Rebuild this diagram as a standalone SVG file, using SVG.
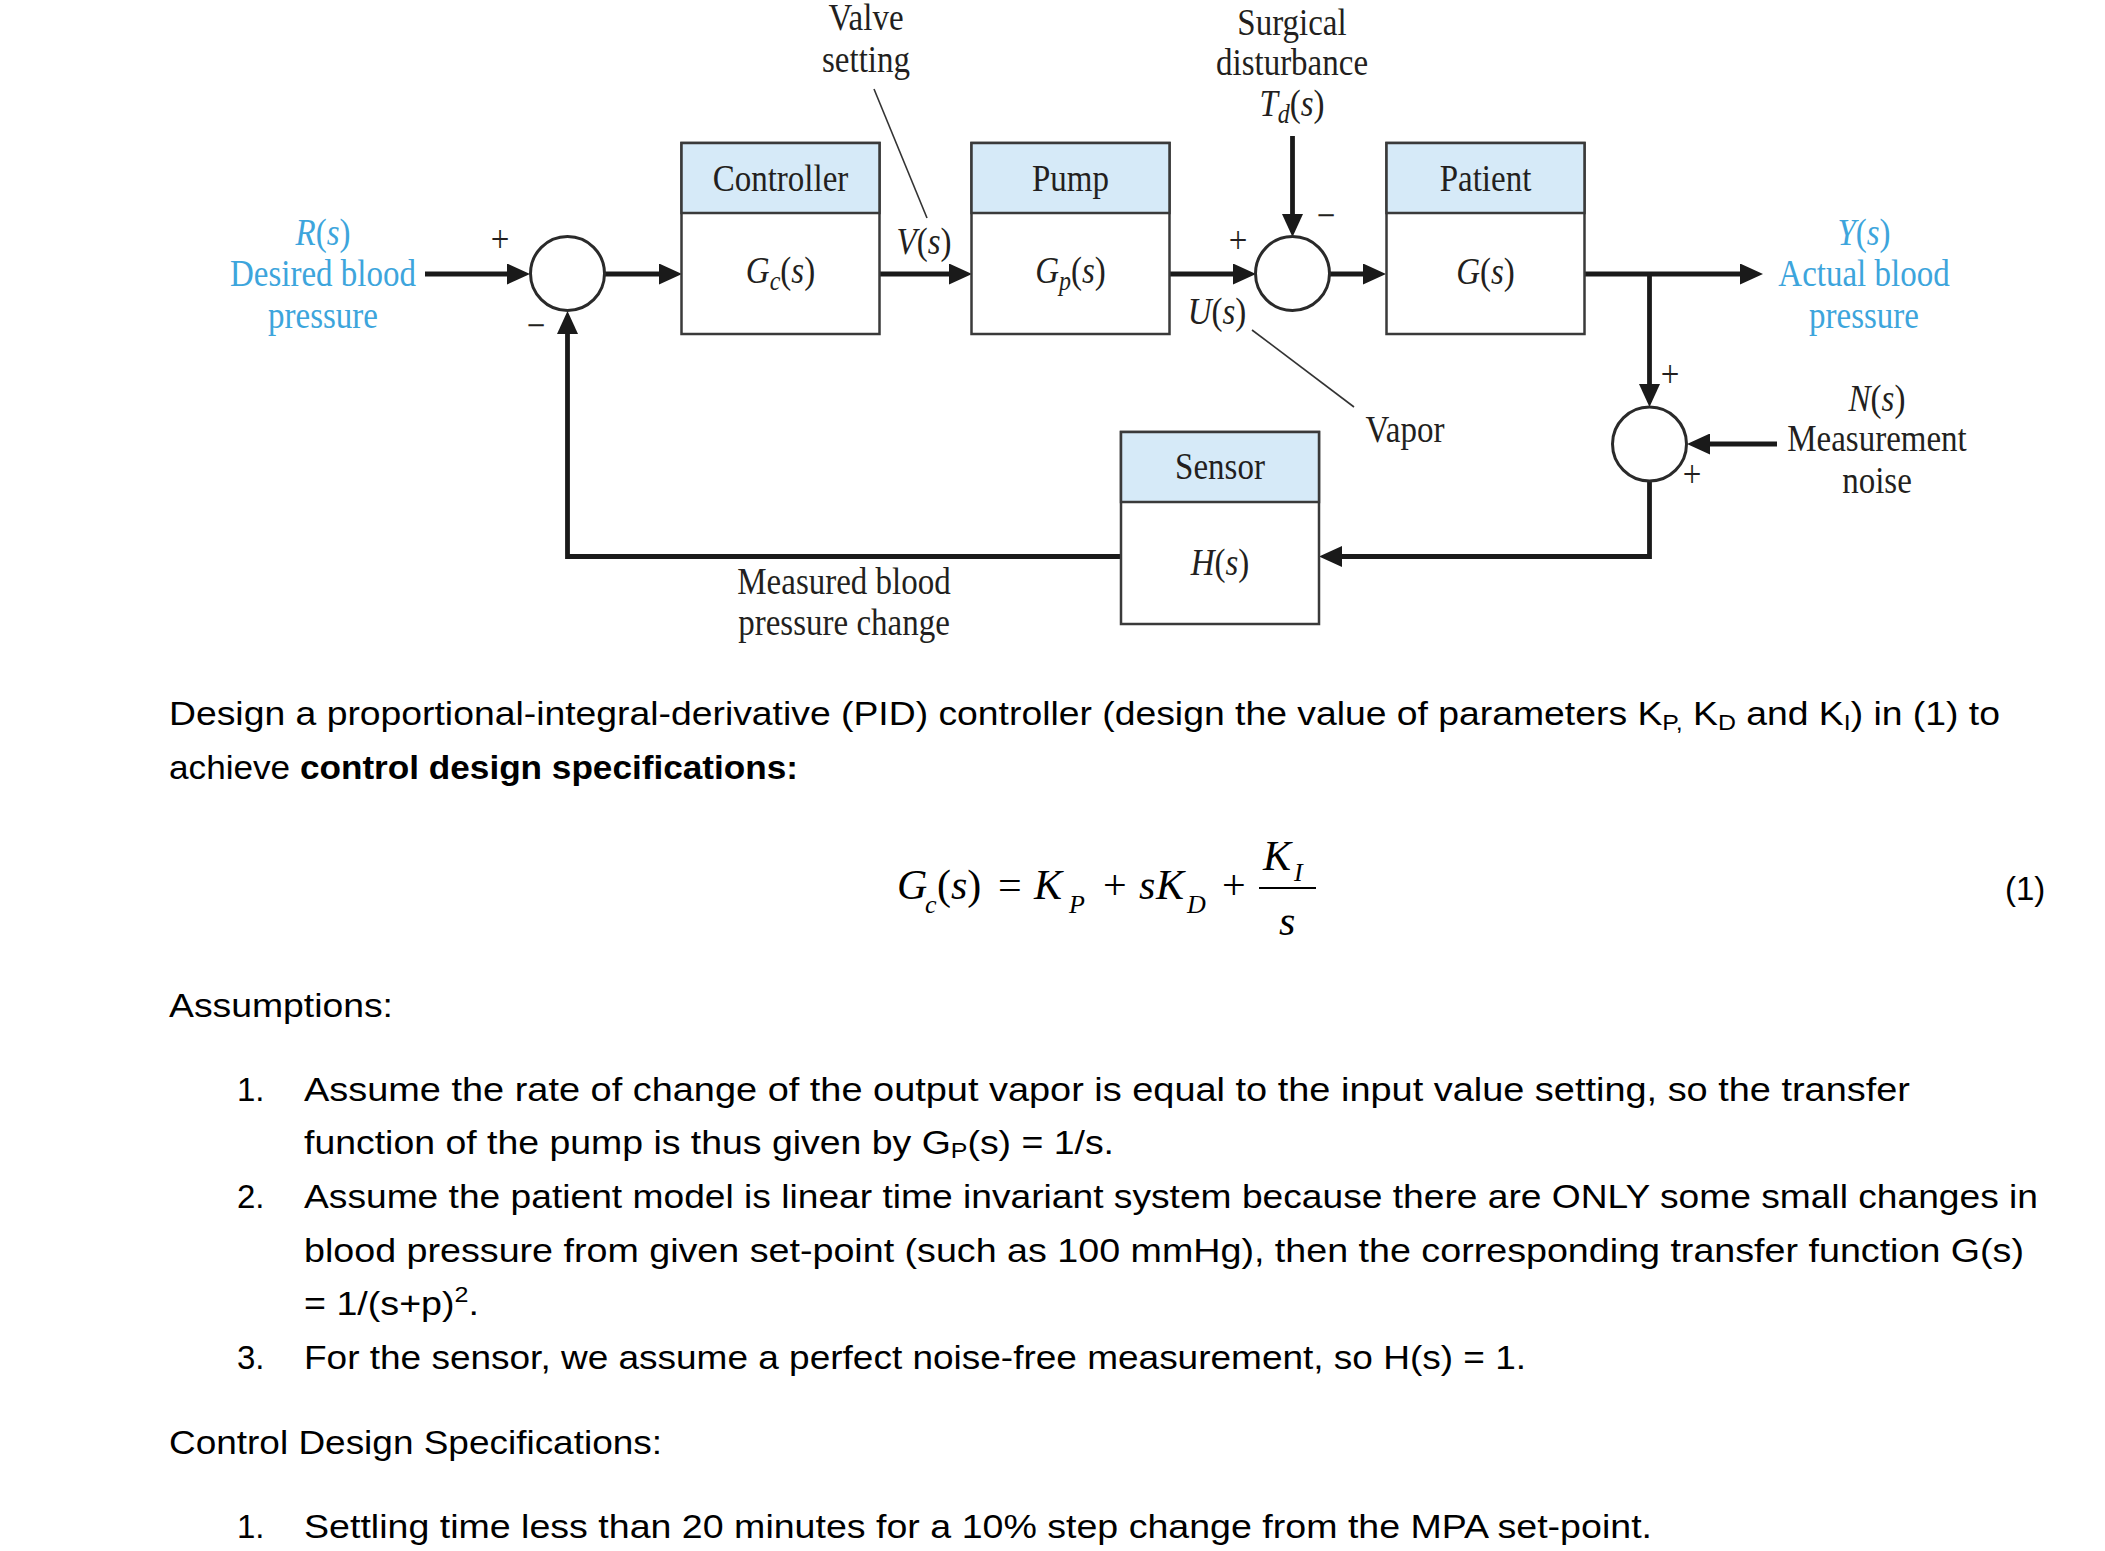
<svg xmlns="http://www.w3.org/2000/svg" width="2105" height="1551" viewBox="0 0 2105 1551">
<defs>
<marker id="ah" markerUnits="userSpaceOnUse" markerWidth="23" markerHeight="21" viewBox="0 0 23 21" refX="15" refY="10.5" orient="auto"><path d="M0,0 L23,10.5 L0,21 z" fill="#1a1a1a"/></marker>
</defs>
<style>
.box{fill:#fff;stroke:#3a3a3a;stroke-width:2.5}
.hdr{fill:#d6eaf8;stroke:#3a3a3a;stroke-width:2.5}
.sum{fill:#fff;stroke:#2a2a2a;stroke-width:3}
.sig{fill:none;stroke:#1a1a1a;stroke-width:4.8;marker-end:url(#ah)}
.thin{fill:none;stroke:#333;stroke-width:1.6}
.dt{font-family:"Liberation Serif","Times New Roman",serif;font-size:33px;fill:#231f20;text-anchor:middle}
.blue{fill:#3da5dc}
.it{font-style:italic}
.bt{font-family:"Liberation Sans",Arial,sans-serif;font-size:33px;fill:#000}
.eq{font-family:"Liberation Serif","Times New Roman",serif;font-style:italic;font-size:42px;fill:#000}
.up{font-style:normal}
</style>
<rect width="2105" height="1551" fill="#fff"/>

<g id="connectors">
<path class="sig" d="M425,274 H522"/>
<path class="sig" d="M605,274 H674"/>
<path class="sig" d="M879,274 H964"/>
<path class="sig" d="M1170,274 H1248"/>
<path class="sig" d="M1292.5,136 V229"/>
<path class="sig" d="M1330,274 H1378"/>
<path class="sig" d="M1585,274 H1755"/>
<path class="sig" d="M1649.5,274 V399"/>
<path class="sig" d="M1777,444 H1695"/>
<path class="sig" d="M1649.5,481 V556.5 H1327"/>
<path class="sig" d="M1121,556.5 H567.5 V319"/>
<line class="thin" x1="874" y1="89" x2="927" y2="218"/>
<line class="thin" x1="1252" y1="330" x2="1354" y2="407"/>
</g>

<g id="sum1"><circle class="sum" cx="567.5" cy="273.5" r="37"/></g>
<g id="sum2"><circle class="sum" cx="1292.5" cy="273.5" r="37"/></g>
<g id="sum3"><circle class="sum" cx="1649.5" cy="444" r="37"/></g>

<g id="controller">
<rect class="box" x="681.5" y="143" width="198" height="191"/>
<rect class="hdr" x="681.5" y="143" width="198" height="70"/>
<text class="dt" transform="translate(780.5 191) scale(1 1.15)">Controller</text>
<text class="dt" transform="translate(780.5 283) scale(1 1.15)"><tspan class="it">G</tspan><tspan class="it" font-size="24" dy="6">c</tspan><tspan dy="-6">(</tspan><tspan class="it">s</tspan>)</text>
</g>

<g id="pump">
<rect class="box" x="971.5" y="143" width="198" height="191"/>
<rect class="hdr" x="971.5" y="143" width="198" height="70"/>
<text class="dt" transform="translate(1070.5 191) scale(1 1.15)">Pump</text>
<text class="dt" transform="translate(1070.5 283) scale(1 1.15)"><tspan class="it">G</tspan><tspan class="it" font-size="24" dy="6">p</tspan><tspan dy="-6">(</tspan><tspan class="it">s</tspan>)</text>
</g>

<g id="patient">
<rect class="box" x="1386.5" y="143" width="198" height="191"/>
<rect class="hdr" x="1386.5" y="143" width="198" height="70"/>
<text class="dt" transform="translate(1485.5 191) scale(1 1.15)">Patient</text>
<text class="dt" transform="translate(1485.5 284) scale(1 1.15)"><tspan class="it">G</tspan>(<tspan class="it">s</tspan>)</text>
</g>

<g id="sensor">
<rect class="box" x="1121" y="432" width="198" height="192"/>
<rect class="hdr" x="1121" y="432" width="198" height="70"/>
<text class="dt" transform="translate(1220 479) scale(1 1.15)">Sensor</text>
<text class="dt" transform="translate(1220 575) scale(1 1.15)"><tspan class="it">H</tspan>(<tspan class="it">s</tspan>)</text>
</g>

<g id="labels">
<text class="dt" transform="translate(866 30) scale(1 1.15)">Valve</text>
<text class="dt" transform="translate(866 72) scale(1 1.15)">setting</text>
<text class="dt" transform="translate(1292 35) scale(1 1.15)">Surgical</text>
<text class="dt" transform="translate(1292 75) scale(1 1.15)">disturbance</text>
<text class="dt" transform="translate(1292 116) scale(1 1.15)"><tspan class="it">T</tspan><tspan class="it" font-size="24" dy="6">d</tspan><tspan dy="-6">(</tspan><tspan class="it">s</tspan>)</text>
<text class="dt blue" transform="translate(323 245) scale(1 1.15)"><tspan class="it">R</tspan>(<tspan class="it">s</tspan>)</text>
<text class="dt blue" transform="translate(323 286) scale(1 1.15)">Desired blood</text>
<text class="dt blue" transform="translate(323 328) scale(1 1.15)">pressure</text>
<text class="dt blue" transform="translate(1864 245) scale(1 1.15)"><tspan class="it">Y</tspan>(<tspan class="it">s</tspan>)</text>
<text class="dt blue" transform="translate(1864 286) scale(1 1.15)">Actual blood</text>
<text class="dt blue" transform="translate(1864 328) scale(1 1.15)">pressure</text>
<text class="dt" transform="translate(1877 411) scale(1 1.15)"><tspan class="it">N</tspan>(<tspan class="it">s</tspan>)</text>
<text class="dt" transform="translate(1877 451) scale(1 1.15)">Measurement</text>
<text class="dt" transform="translate(1877 493) scale(1 1.15)">noise</text>
<text class="dt" transform="translate(924 254) scale(1 1.15)"><tspan class="it">V</tspan>(<tspan class="it">s</tspan>)</text>
<text class="dt" transform="translate(1217 324) scale(1 1.15)"><tspan class="it">U</tspan>(<tspan class="it">s</tspan>)</text>
<text class="dt" transform="translate(1405 442) scale(1 1.15)">Vapor</text>
<text class="dt" transform="translate(844 594) scale(1 1.15)">Measured blood</text>
<text class="dt" transform="translate(844 635) scale(1 1.15)">pressure change</text>
<text class="dt" transform="translate(500 252) scale(1 1.15)">+</text>
<text class="dt" transform="translate(536 338) scale(1 1.15)">−</text>
<text class="dt" transform="translate(1238 253) scale(1 1.15)">+</text>
<text class="dt" transform="translate(1326 228) scale(1 1.15)">−</text>
<text class="dt" transform="translate(1670 387) scale(1 1.15)">+</text>
<text class="dt" transform="translate(1692 487) scale(1 1.15)">+</text>
</g>

<g id="body-text">
<text class="bt" x="169" y="725" textLength="1831" lengthAdjust="spacingAndGlyphs">Design a proportional-integral-derivative (PID) controller (design the value of parameters K<tspan font-size="22" dy="5">P,</tspan><tspan dy="-5"> K</tspan><tspan font-size="22" dy="5">D</tspan><tspan dy="-5"> and K</tspan><tspan font-size="22" dy="5">I</tspan><tspan dy="-5">) in (1) to</tspan></text>
<text class="bt" x="169" y="779" textLength="629" lengthAdjust="spacingAndGlyphs">achieve <tspan font-weight="bold">control design specifications:</tspan></text>

<text class="eq"><tspan x="897" y="899">G</tspan><tspan x="925" y="913" font-size="26">c</tspan><tspan x="937" y="899" class="up">(</tspan><tspan>s</tspan><tspan class="up">)</tspan><tspan x="998" class="up">=</tspan><tspan x="1034">K</tspan><tspan x="1069" y="913" font-size="26">P</tspan><tspan x="1103" y="899" class="up">+</tspan><tspan x="1139">s</tspan><tspan x="1156">K</tspan><tspan x="1187" y="913" font-size="26">D</tspan><tspan x="1222" y="899" class="up">+</tspan><tspan x="1263" y="870">K</tspan><tspan x="1294" y="881" font-size="26">I</tspan><tspan x="1279" y="935">s</tspan></text>
<line x1="1259" y1="888" x2="1316" y2="888" stroke="#000" stroke-width="2.2"/>
<text class="bt" x="2005" y="900">(1)</text>

<text class="bt" x="169" y="1017" textLength="224" lengthAdjust="spacingAndGlyphs">Assumptions:</text>

<text class="bt" x="237" y="1101">1.</text>
<text class="bt" x="304" y="1101" textLength="1606" lengthAdjust="spacingAndGlyphs">Assume the rate of change of the output vapor is equal to the input value setting, so the transfer</text>
<text class="bt" x="304" y="1154" textLength="810" lengthAdjust="spacingAndGlyphs">function of the pump is thus given by G<tspan font-size="22" dy="4">P</tspan><tspan dy="-4">(s) = 1/s.</tspan></text>
<text class="bt" x="237" y="1208">2.</text>
<text class="bt" x="304" y="1208" textLength="1734" lengthAdjust="spacingAndGlyphs">Assume the patient model is linear time invariant system because there are ONLY some small changes in</text>
<text class="bt" x="304" y="1262" textLength="1720" lengthAdjust="spacingAndGlyphs">blood pressure from given set-point (such as 100 mmHg), then the corresponding transfer function G(s)</text>
<text class="bt" x="304" y="1315" textLength="175" lengthAdjust="spacingAndGlyphs">= 1/(s+p)<tspan font-size="22" dy="-13">2</tspan><tspan dy="13">.</tspan></text>
<text class="bt" x="237" y="1369">3.</text>
<text class="bt" x="304" y="1369" textLength="1222" lengthAdjust="spacingAndGlyphs">For the sensor, we assume a perfect noise-free measurement, so H(s) = 1.</text>

<text class="bt" x="169" y="1454" textLength="493" lengthAdjust="spacingAndGlyphs">Control Design Specifications:</text>
<text class="bt" x="237" y="1538">1.</text>
<text class="bt" x="304" y="1538" textLength="1348" lengthAdjust="spacingAndGlyphs">Settling time less than 20 minutes for a 10% step change from the MPA set-point.</text>
</g>
</svg>
